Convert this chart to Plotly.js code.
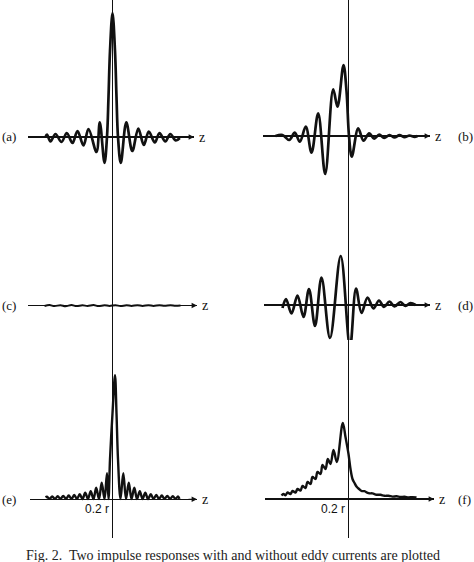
<!DOCTYPE html>
<html><head><meta charset="utf-8">
<script src="https://cdn.plot.ly/plotly-3.0.1.min.js"></script>
<style>html,body{margin:0;padding:0;background:#fff;}#chart{width:474px;height:562px;}</style>
</head><body><div id="chart"></div>
<script>
// ---- data (z offset from reference line, response amplitude; arbitrary units) ----
const panelLabels = ['(a)', '(b)', '(c)', '(d)', '(e)', '(f)'];
const axisLabel = 'z';
const offsetLabel = '0.2 r';
const captionText = 'Fig. 2.\u00a0 Two impulse responses with and without eddy currents are plotted';

const zA = [-67, -65.5, -62, -57, -51, -45.7, -40, -35, -29, -24, -16, -12.7, -8, -5.5, -4, -2.5, 0, 2.5, 4, 5.5, 8.3, 13.8, 19.8, 25.8, 31.3, 36.3, 42.3, 47, 52.8, 57.8, 63.3, 67.3];
const hA = [0, 2.5, -4.5, 3, -5, 4, -6, 6, -8.5, 8, -15, 14.6, -26, 0, 40, 86, 124, 86, 40, 0, -26, 14.6, -14, 8.5, -8, 5.5, -5.5, 4, -4.5, 3, -3.5, -1];

const zB = [-73, -66, -59.3, -53.7, -48.7, -42.7, -37, -30.3, -23.3, -15.3, -11, -5, -2, 0.5, 3.3, 9.7, 15, 20.7, 25.7, 30.7, 35.7, 41, 46, 51, 56, 61, 66, 69];
const hB = [0, 1, -4, 3.3, -5.7, 9.3, -16.7, 22.7, -38, 46.7, 29.3, 71, 45, 0, -20.7, 7.7, -4.7, 2.7, -2.7, 1.3, -2, 1, -1.5, 0.8, -1.2, 0.5, -0.8, 0];

const zC = [-68, -63, -58, -52, -47, -41, -36, -30, -25, -19, -14, -8, -3, 3, 8, 14, 19, 25, 30, 36, 41, 47, 52, 58, 63, 68];
const hC = [-0.5, 0.4, -0.6, 0.3, -0.7, 0.4, -0.6, 0.3, -0.5, 0.4, -0.6, 0.2, -0.4, 0.3, -0.5, 0.2, -0.4, 0.3, -0.4, 0.2, -0.4, 0.2, -0.3, 0.2, -0.3, 0];

const zD = [-66, -62.5, -57, -51, -45, -39.5, -33.5, -27, -18.5, -7.8, 1.5, 7.5, 13, 19, 25, 30.5, 35.5, 41, 46, 52, 57, 62, 67];
const hD = [-3, 6, -8.5, 9.5, -12, 16, -21, 27.5, -33, 49, -42, 16.5, -8, 7.5, -3.5, 4.5, -2, 3.5, -1.5, 3, -1, 2, 0];

const zE = [-67, -65.5, -63, -60.3, -57.5, -54.8, -52, -49.3, -46.5, -43.8, -41, -38.3, -35.5, -32.8, -30, -27.3, -24.5, -21.8, -19, -16.3, -13.5, -10.8, -8, -5.5, -4, -2.5, 0, 2.5, 4, 5.5, 8, 10.8, 13.5, 16.3, 19, 21.8, 24.5, 27.3, 30, 32.8, 35.5, 38.3, 41, 43.8, 46.5, 49.3, 52, 54.8, 57.5, 60.3, 63, 65.5, 67];
const hE = [2, 2.5, 0.4, 2.8, 0.4, 3, 0.4, 3.3, 0.4, 3.8, 0.4, 4.3, 0.4, 5, 0.3, 6.5, 0.3, 8, 0.3, 11.5, 0.3, 16.5, 0.3, 26, 0.3, 40, 86, 124, 86, 40, 0.3, 26, 0.3, 16.5, 0.3, 11.5, 0.3, 8, 0.3, 6.5, 0.3, 5, 0.4, 4.3, 0.4, 3.8, 0.4, 3.3, 0.4, 3, 0.4, 2.8, 0.4, 2.5, 2];

const zF = [-67, -65, -63, -61, -58, -56, -53, -51, -48, -46, -43, -41, -38, -36, -33, -31, -28, -26, -23, -20.7, -18, -15, -11.7, -5.7, -3, 0, 2, 4, 6, 8, 10, 13, 16, 20, 24, 28, 32, 36, 40, 44, 48, 52, 56, 60, 64, 68];
const hF = [3.5, 5, 3.8, 6.5, 5, 8, 6.5, 10, 8.5, 13, 11, 17, 15, 22, 20, 27, 25, 34, 30, 40, 35, 49, 37, 76, 62, 45, 30, 20, 16, 12.5, 10.5, 8, 7.8, 5.8, 5.6, 4.3, 4.2, 3.2, 3.3, 2.4, 2.7, 2, 2.3, 1.6, 1.9, 1.5];

const seriesZ = [zA, zB, zC, zD, zE, zF];
const seriesH = [hA, hB, hC, hD, hE, hF];

// ---- layout geometry (pixels of the 474x562 page) ----
const W = 474, H = 562;
const geom = [
  {x0: 28,  x1: 194, cx: 112.5, yt: 0,   yb: 190, ay: 137,   side: 'left'},
  {x0: 263, x1: 430, cx: 348.5, yt: 0,   yb: 190, ay: 136,   side: 'right'},
  {x0: 28,  x1: 197, cx: 112.5, yt: 190, yb: 340, ay: 305.5, side: 'left'},
  {x0: 264, x1: 430, cx: 348.5, yt: 190, yb: 340, ay: 305,   side: 'right'},
  {x0: 30,  x1: 197, cx: 112.5, yt: 340, yb: 538, ay: 499.3, side: 'left'},
  {x0: 265, x1: 434, cx: 348.5, yt: 340, yb: 538, ay: 499,   side: 'right'}
];
const lineWidths = [2.7, 2.7, 2.0, 2.7, 2.4, 2.4];

const serif = 'Liberation Serif, Times New Roman, serif';
const sans = 'Liberation Sans, Arial, sans-serif';
const ink = '#111';

const traces = [];
const layout = {
  width: W, height: H,
  margin: {l: 0, r: 0, t: 0, b: 0},
  paper_bgcolor: '#fff', plot_bgcolor: 'rgba(0,0,0,0)',
  showlegend: false,
  annotations: []
};

geom.forEach((g, i) => {
  const s = i === 0 ? '' : String(i + 1);
  layout['xaxis' + s] = {
    domain: [g.x0 / W, g.x1 / W], range: [g.x0 - g.cx, g.x1 - g.cx],
    showgrid: false, showticklabels: false, ticks: '', showline: false,
    zeroline: true, zerolinecolor: ink, zerolinewidth: 1.4, fixedrange: true,
    anchor: 'y' + s
  };
  layout['yaxis' + s] = {
    domain: [1 - g.yb / H, 1 - g.yt / H], range: [g.ay - g.yb, g.ay - g.yt],
    showgrid: false, showticklabels: false, ticks: '', showline: false,
    zeroline: true, zerolinecolor: ink, zerolinewidth: 1.2, fixedrange: true,
    anchor: 'x' + s
  };
  traces.push({
    x: seriesZ[i], y: seriesH[i], xaxis: 'x' + s, yaxis: 'y' + s,
    mode: 'lines', hoverinfo: 'skip',
    line: {color: ink, width: lineWidths[i], shape: 'spline', smoothing: 1}
  });
  const xEnd = g.x1 - g.cx;
  // arrowhead on the z axis
  layout.annotations.push({
    xref: 'x' + s, yref: 'y' + s, x: xEnd, y: 0,
    axref: 'x' + s, ayref: 'y' + s, ax: xEnd - 10, ay: 0,
    showarrow: true, arrowhead: 2, arrowsize: 0.9, arrowwidth: 1.2, arrowcolor: ink, text: ''
  });
  // z label
  layout.annotations.push({
    xref: 'x' + s, yref: 'y' + s, x: xEnd, y: 0, xanchor: 'left', yanchor: 'middle',
    xshift: 3, showarrow: false, text: axisLabel,
    font: {family: serif, size: 14, color: ink}
  });
  // panel label
  layout.annotations.push({
    xref: 'paper', yref: 'paper',
    x: g.side === 'left' ? 0 : 456 / W, y: 1 - g.ay / H,
    xanchor: 'left', yanchor: 'middle', showarrow: false, text: panelLabels[i],
    font: {family: serif, size: 13, color: ink}
  });
  if (i >= 4) {
    layout.annotations.push({
      xref: 'x' + s, yref: 'y' + s, x: 0, y: 0, xanchor: 'right', yanchor: 'top',
      xshift: -2, yshift: -1, showarrow: false, text: offsetLabel,
      font: {family: sans, size: 12, color: ink}
    });
  }
});

layout.annotations.push({
  xref: 'paper', yref: 'paper', x: 24 / W, y: 1 - 555 / H,
  xanchor: 'left', yanchor: 'middle', showarrow: false, text: captionText,
  font: {family: serif, size: 14, color: '#222'}
});

Plotly.newPlot('chart', traces, layout, {staticPlot: true, displayModeBar: false});
</script>
</body></html>
